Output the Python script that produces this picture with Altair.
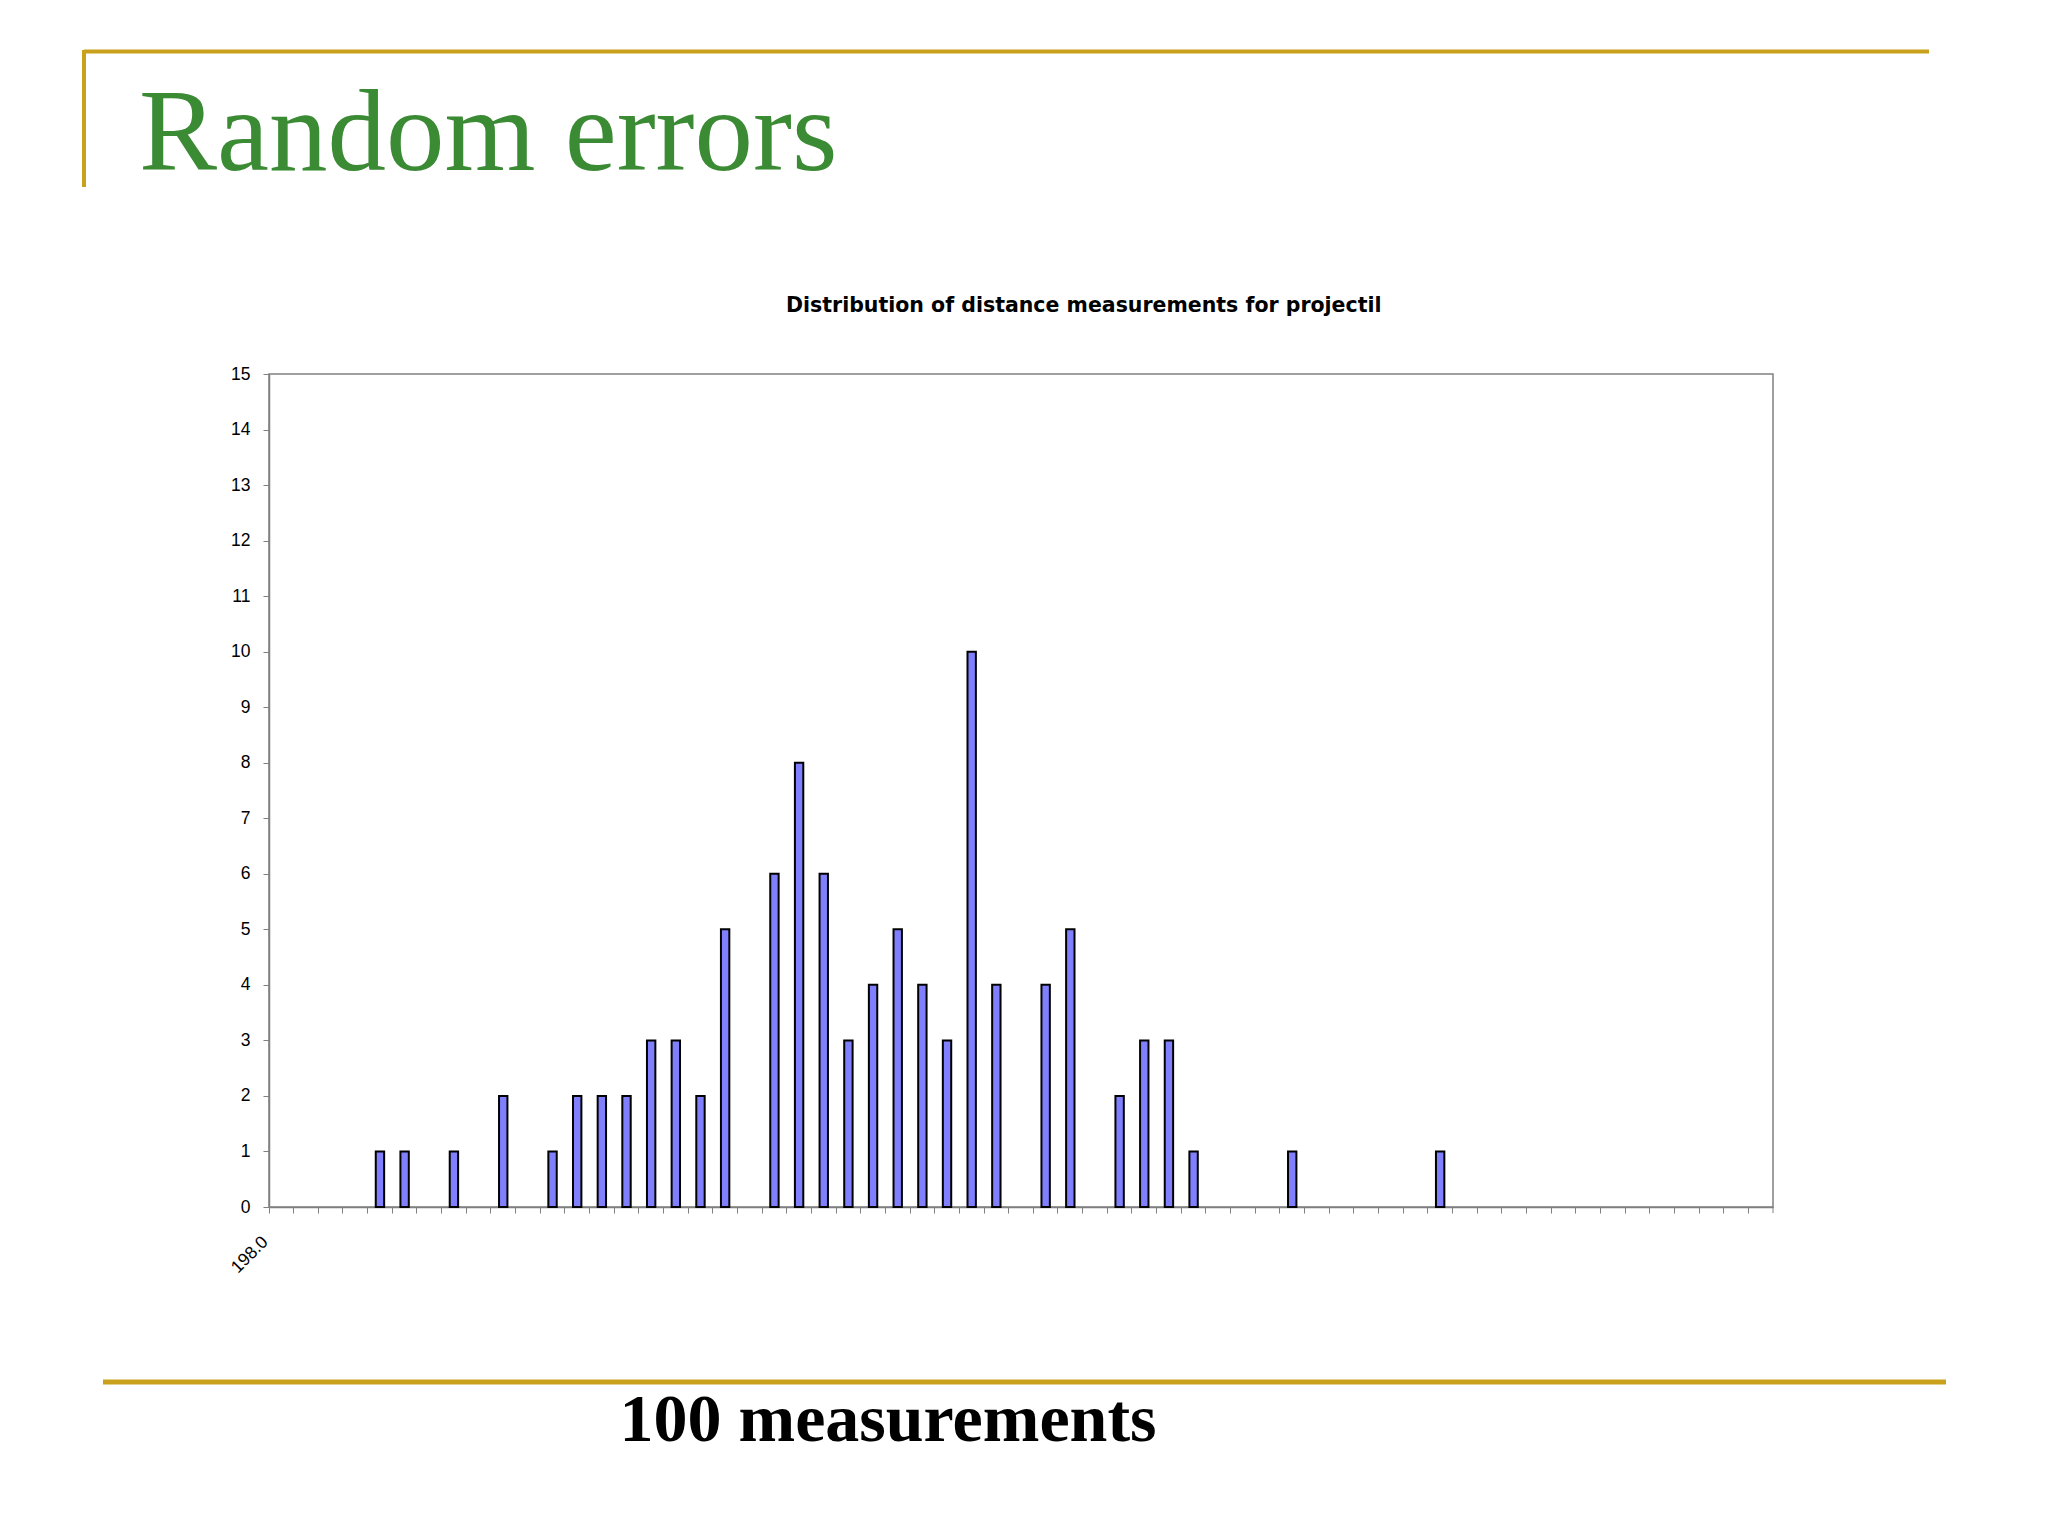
import altair as alt
import pandas as pd

# ---- data ----
categories = [
    "198.0", "198.1", "198.2", "198.3", "198.4", "198.5", "198.6", "198.7", "198.8", "198.9",
    "199.0", "199.1", "199.2", "199.3", "199.4", "199.5", "199.6", "199.7", "199.8", "199.9",
    "200.0", "200.1", "200.2", "200.3", "200.4", "200.5", "200.6", "200.7", "200.8", "200.9",
    "201.0", "201.1", "201.2", "201.3", "201.4", "201.5", "201.6", "201.7", "201.8", "201.9",
    "202.0", "202.1", "202.2", "202.3", "202.4", "202.5", "202.6", "202.7", "202.8", "202.9",
    "203.0", "203.1", "203.2", "203.3", "203.4", "203.5", "203.6", "203.7", "203.8", "203.9",
    "204.0",
]
counts = [
    0, 0, 0, 0, 1, 1, 0, 1, 0, 2,
    0, 1, 2, 2, 2, 3, 3, 2, 5, 0,
    6, 8, 6, 3, 4, 5, 4, 3, 10, 4,
    0, 4, 5, 0, 2, 3, 3, 1, 0, 0,
    0, 1, 0, 0, 0, 0, 0, 1, 0, 0,
    0, 0, 0, 0, 0, 0, 0, 0, 0, 0,
    0,
]
y_ticks = list(range(0, 16))

slide_title = "Random errors"
chart_title = "Distribution of distance measurements for projectil"
footer_text = "100 measurements"

df = pd.DataFrame({"cat": categories, "count": counts})

W, H = 1504, 833
GOLD = "#C9A11D"
one = alt.Data(values=[{}])

bars = alt.Chart(df).transform_filter("datum.count > 0").mark_bar(
    width={"band": 0.34}, color="#8080FF", stroke="#000000", strokeWidth=2
).encode(
    x=alt.X("cat:N", sort=categories,
            scale=alt.Scale(domain=categories, paddingInner=0, paddingOuter=0),
            axis=alt.Axis(title=None, bandPosition=0, tickSize=6, tickColor="#808080",
                          domainColor="#808080", domainWidth=1.5,
                          labelExpr="datum.value == '198.0' ? datum.label : ''",
                          labelAngle=315, labelAlign="right", labelBaseline="middle",
                          labelPadding=26, labelOffset=-16, labelOverlap=False,
                          labelFont="Liberation Sans", labelFontSize=17.5,
                          labelColor="#000000", grid=False)),
    y=alt.Y("count:Q", scale=alt.Scale(domain=[0, 15], nice=False),
            axis=alt.Axis(title=None, values=y_ticks, tickSize=6, tickColor="#808080",
                          domainColor="#808080", domainWidth=1.5, labelPadding=13,
                          labelFont="Liberation Sans", labelFontSize=17.5,
                          labelColor="#000000", grid=False)),
)

end_tick = alt.Chart(one).mark_rule(color="#808080", strokeWidth=1).encode(
    x=alt.value(W), y=alt.value(H), y2=alt.value(H + 6)
)

top_line = alt.Chart(one).mark_rule(color=GOLD, strokeWidth=4).encode(
    x=alt.value(-185), x2=alt.value(1660), y=alt.value(-322.5)
)
left_line = alt.Chart(one).mark_rule(color=GOLD, strokeWidth=4).encode(
    x=alt.value(-185), y=alt.value(-324), y2=alt.value(-187)
)
bottom_line = alt.Chart(one).mark_rule(color=GOLD, strokeWidth=5).encode(
    x=alt.value(-166), x2=alt.value(1677), y=alt.value(1008)
)

title_text = alt.Chart(one).mark_text(
    text=slide_title, font="Liberation Serif", fontSize=117, color="#3B8A34",
    align="left", baseline="alphabetic"
).encode(x=alt.value(-130), y=alt.value(-204))

chart_title_text = alt.Chart(one).mark_text(
    text=chart_title, font="DejaVu Sans", fontSize=20.5, fontWeight="bold",
    color="#000000", align="left", baseline="alphabetic"
).encode(x=alt.value(517), y=alt.value(-62))

footer = alt.Chart(one).mark_text(
    text=footer_text, font="Liberation Serif", fontSize=68, fontWeight="bold",
    color="#000000", align="center", baseline="alphabetic"
).encode(x=alt.value(619), y=alt.value(1067))

chart = alt.layer(
    bars, end_tick, top_line, left_line, bottom_line, title_text, chart_title_text, footer
).properties(
    width=W, height=H,
    autosize=alt.AutoSizeParams(type="none"),
    padding={"left": 261, "top": 366, "right": 267, "bottom": 321},
    background="#FFFFFF",
).configure_view(stroke="#808080", strokeWidth=1.5)

chart.save("out.html", embed_options={"renderer": "svg", "actions": False})
